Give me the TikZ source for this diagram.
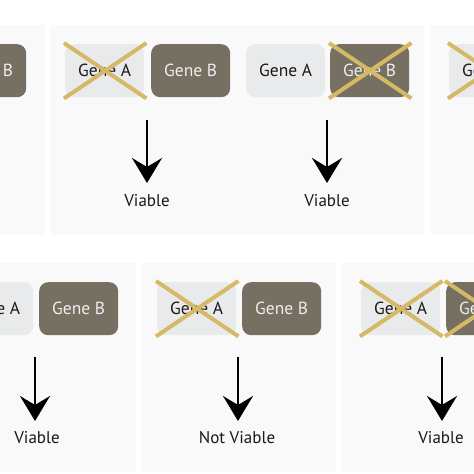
\documentclass[tikz,border=0pt]{standalone}
\usepackage{fontspec}
\setmainfont{PT Sans}
\usetikzlibrary{arrows.meta}
\definecolor{panelbg}{HTML}{F9F9F9}
\definecolor{darkgene}{HTML}{757061}
\definecolor{lightgene}{HTML}{E9EAEB}
\definecolor{crossc}{HTML}{D5B966}
\definecolor{darktext}{HTML}{EEEEEE}
\tikzset{
  panel/.style={fill=panelbg, draw=none},
  genebox/.style={rounded corners=9pt, minimum width=79pt, minimum height=53pt, inner sep=0pt, font=\fontsize{17.5}{19}\selectfont, anchor=north west},
  lightbox/.style={genebox, fill=lightgene, text=black!90},
  darkbox/.style={genebox, fill=darkgene, text=darktext},
  crossline/.style={draw=crossc, line width=4pt},
  resarrow/.style={line width=2.8pt, -{Stealth[length=25pt,width=30pt,inset=9pt]}},
  outcome/.style={font=\fontsize{17}{19}\selectfont, text=black!90, inner sep=0pt}
}
\newcommand{\crossit}[1]{%
  \draw[crossline] ([xshift=-1pt,yshift=1pt]#1.north west) -- ([xshift=2pt,yshift=-1pt]#1.south east);
  \draw[crossline] ([xshift=-1pt,yshift=-1pt]#1.south west) -- ([xshift=2pt,yshift=1pt]#1.north east);
}
\begin{document}
\begin{tikzpicture}[x=1pt,y=-1pt]
\useasboundingbox (0,0) rectangle (474,474);
\clip (0,0) rectangle (474,474);
\fill[white] (0,0) rectangle (474,474);
% panels
\fill[panel] (-5,25) rectangle (45,235);
\fill[panel] (50,25) rectangle (424,235);
\fill[panel] (431,25) rectangle (480,235);
\fill[panel] (-5,263) rectangle (136,472);
\fill[panel] (141,263) rectangle (336,472);
\fill[panel] (342,263) rectangle (480,472);
% top row boxes
\node[darkbox] (t1b) at (-53,44) {Gene B};
\node[lightbox] (t2a) at (65,44) {Gene A};
\node[darkbox] (t2b) at (151,44) {Gene B};
\node[lightbox] (t3a) at (246,44) {Gene A};
\node[darkbox] (t3b) at (330,44) {Gene B};
\node[lightbox] (t4a) at (449,44) {Gene A};
\crossit{t2a}
\crossit{t3b}
\crossit{t4a}
% bottom row boxes
\node[lightbox] (b1a) at (-46,282) {Gene A};
\node[darkbox] (b1b) at (39,282) {Gene B};
\node[lightbox] (b2a) at (157,282) {Gene A};
\node[darkbox] (b2b) at (242,282) {Gene B};
\node[lightbox] (b3a) at (361,282) {Gene A};
\node[darkbox] (b3b) at (446,282) {Gene B};
\crossit{b2a}
\crossit{b3a}
\crossit{b3b}
% arrows and outcomes
\coordinate (s1) at (147,120); \coordinate (e1) at (147,183);
\node[outcome] (o1) at (147,201) {Viable};
\draw[resarrow] (s1) -- (e1);
\coordinate (s2) at (327,120); \coordinate (e2) at (327,183);
\node[outcome] (o2) at (327,201) {Viable};
\draw[resarrow] (s2) -- (e2);
\coordinate (s3) at (35,357); \coordinate (e3) at (35,421);
\node[outcome] (o3) at (37,438) {Viable};
\draw[resarrow] (s3) -- (e3);
\coordinate (s4) at (238,357); \coordinate (e4) at (238,421);
\node[outcome] (o4) at (237,438) {Not Viable};
\draw[resarrow] (s4) -- (e4);
\coordinate (s5) at (442,357); \coordinate (e5) at (442,421);
\node[outcome] (o5) at (441,438) {Viable};
\draw[resarrow] (s5) -- (e5);
\end{tikzpicture}
\end{document}
